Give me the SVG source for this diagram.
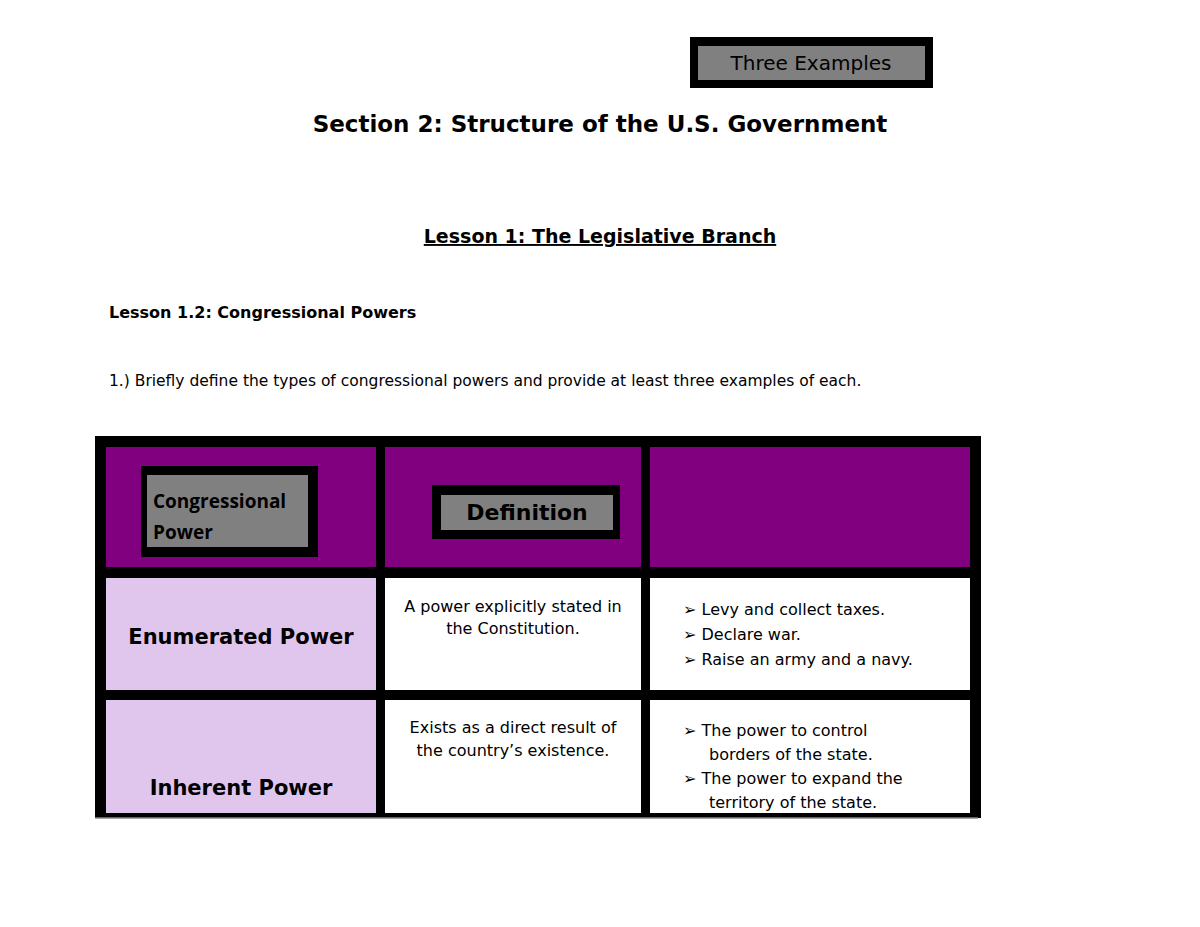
<svg xmlns="http://www.w3.org/2000/svg" width="1200" height="927" viewBox="0 0 1200 927">
<style>
text{font-family:"DejaVu Sans",sans-serif;fill:#000}
.b{font-weight:bold}
.hdr{fill:#800080}
.lav{fill:#e0c6ec}
.wh{fill:#fff}
.blk{fill:#000}
.gry{fill:#808080}
.c{font-size:16px}
</style>
<rect width="1200" height="927" fill="#fff"/>
<g id="three-examples">
<rect class="blk" x="690" y="37" width="243" height="51"/>
<rect class="gry" x="698" y="46" width="227" height="34"/>
<text x="811" y="70" font-size="20" text-anchor="middle">Three Examples</text>
</g>
<text class="b" x="600" y="132" font-size="23" text-anchor="middle">Section 2: Structure of the U.S. Government</text>
<text class="b" x="600" y="243" font-size="19" text-anchor="middle" text-decoration="underline">Lesson 1: The Legislative Branch</text>
<text class="b" x="109" y="318" font-size="16">Lesson 1.2: Congressional Powers</text>
<text x="109" y="386" font-size="15.5">1.) Briefly define the types of congressional powers and provide at least three examples of each.</text>
<g id="table">
<rect class="blk" x="95" y="436" width="886" height="382"/>
<line x1="95" y1="818" x2="978" y2="818" stroke="#888" stroke-width="1.5"/>
<rect class="hdr" x="106" y="447" width="270" height="120"/>
<rect class="hdr" x="385" y="447" width="256" height="120"/>
<rect class="hdr" x="650" y="447" width="320" height="120"/>
<rect class="lav" x="106" y="578" width="270" height="112"/>
<rect class="wh" x="385" y="578" width="256" height="112"/>
<rect class="wh" x="650" y="578" width="320" height="112"/>
<rect class="lav" x="106" y="700" width="270" height="113"/>
<rect class="wh" x="385" y="700" width="256" height="113"/>
<rect class="wh" x="650" y="700" width="320" height="113"/>
</g>
<g id="congressional-power">
<rect class="blk" x="141" y="466" width="177" height="91"/>
<rect class="gry" x="147" y="475" width="161" height="72"/>
<text class="b" x="153" y="508" font-size="19" font-family="'Open Sans',sans-serif" style="font-family:'Open Sans',sans-serif">Congressional</text>
<text class="b" x="153" y="539" font-size="19" style="font-family:'Open Sans',sans-serif">Power</text>
</g>
<g id="definition">
<rect class="blk" x="432" y="485" width="188" height="54"/>
<rect class="gry" x="441" y="495" width="172" height="35"/>
<text class="b" x="527" y="520" font-size="22" text-anchor="middle">Definition</text>
</g>
<g id="enumerated">
<text class="b" x="241" y="644" font-size="21" text-anchor="middle">Enumerated Power</text>
<text class="c" x="513" y="612" text-anchor="middle">A power explicitly stated in</text>
<text class="c" x="513" y="634" text-anchor="middle">the Constitution.</text>
<text class="c" x="683" y="615">➢  Levy and collect taxes.</text>
<text class="c" x="683" y="640">➢  Declare war.</text>
<text class="c" x="683" y="665">➢  Raise an army and a navy.</text>
</g>
<g id="inherent">
<text class="b" x="241" y="795" font-size="21" text-anchor="middle">Inherent Power</text>
<text class="c" x="513" y="733" text-anchor="middle">Exists as a direct result of</text>
<text class="c" x="513" y="756" text-anchor="middle">the country’s existence.</text>
<text class="c" x="683" y="736">➢  The power to control</text>
<text class="c" x="709" y="760">borders of the state.</text>
<text class="c" x="683" y="784">➢  The power to expand the</text>
<text class="c" x="709" y="808">territory of the state.</text>
</g>
</svg>
